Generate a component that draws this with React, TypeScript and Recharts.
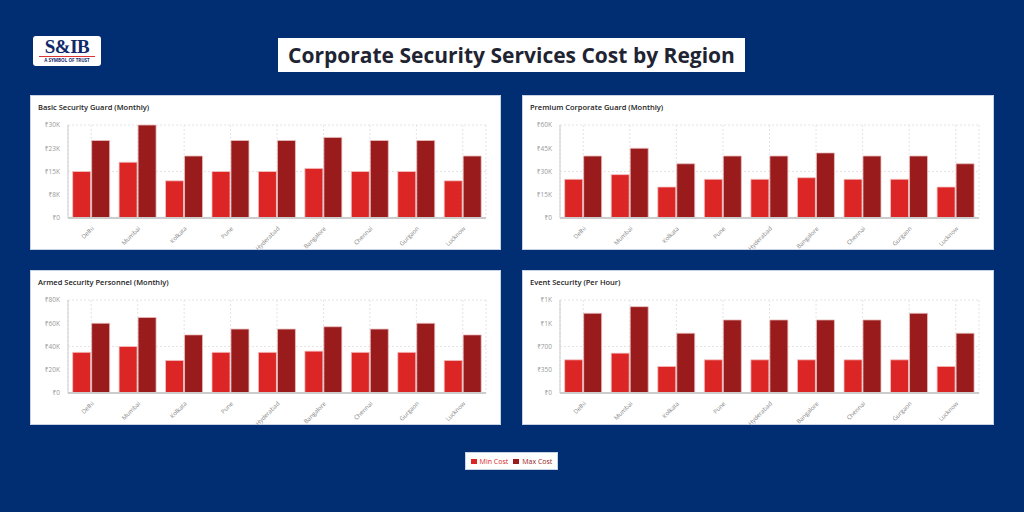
import React from "react"
import { BarChart, Bar, XAxis, YAxis, CartesianGrid } from "recharts"

const cities = ["Delhi", "Mumbai", "Kolkata", "Pune", "Hyderabad", "Bangalore", "Chennai", "Gurgaon", "Lucknow"]

const basicMin = [15000, 18000, 12000, 15000, 15000, 16000, 15000, 15000, 12000]
const basicMax = [25000, 30000, 20000, 25000, 25000, 26000, 25000, 25000, 20000]

const premiumMin = [25000, 28000, 20000, 25000, 25000, 26000, 25000, 25000, 20000]
const premiumMax = [40000, 45000, 35000, 40000, 40000, 42000, 40000, 40000, 35000]

const armedMin = [35000, 40000, 28000, 35000, 35000, 36000, 35000, 35000, 28000]
const armedMax = [60000, 65000, 50000, 55000, 55000, 57000, 55000, 60000, 50000]

const eventMin = [500, 600, 400, 500, 500, 500, 500, 500, 400]
const eventMax = [1200, 1300, 900, 1100, 1100, 1100, 1100, 1200, 900]

const basicTicks = [0, 7500, 15000, 22500, 30000]
const premiumTicks = [0, 15000, 30000, 45000, 60000]
const armedTicks = [0, 20000, 40000, 60000, 80000]
const eventTicks = [0, 350, 700, 1050, 1400]

const MIN_COLOR = "#dc2626"
const MAX_COLOR = "#991b1b"
const NAVY = "#012d72"
const FONT = "'Open Sans', 'Noto Sans', sans-serif"

function money(v: number) {
  if (v >= 1000) return "₹" + (v / 1000).toFixed(0) + "K"
  return "₹" + v
}

function buildRows(min: number[], max: number[]) {
  return cities.map((c, i) => ({ city: c, min: min[i], max: max[i] }))
}

interface PanelProps {
  title: string
  min: number[]
  max: number[]
  ticks: number[]
  left: number
  top: number
  width: number
}

function Panel({ title, min, max, ticks, left, top, width }: PanelProps) {
  const rows = buildRows(min, max)
  return (
    <div
      style={{
        position: "absolute",
        left,
        top,
        width,
        height: 155,
        background: "#fff",
        border: "1px solid #c8d2e6",
        boxSizing: "border-box"
      }}
    >
      <div
        style={{
          position: "absolute",
          left: 7,
          top: 6,
          fontSize: 7.5,
          fontWeight: 600,
          color: "#222",
          fontFamily: FONT
        }}
      >
        {title}
      </div>
      <BarChart
        width={width - 2}
        height={153}
        data={rows}
        margin={{ top: 29, right: 14, left: 0, bottom: 0 }}
        barCategoryGap="10%"
        barGap={1}
      >
        <CartesianGrid strokeDasharray="2 2" stroke="#e4e4e4" />
        <XAxis
          dataKey="city"
          height={31}
          interval={0}
          angle={-45}
          textAnchor="end"
          tick={{ fontSize: 6, fill: "#888", fontFamily: FONT }}
          tickLine={false}
          axisLine={{ stroke: "#ccc", strokeWidth: 2 }}
        />
        <YAxis
          width={37}
          domain={[0, ticks[ticks.length - 1]]}
          ticks={ticks}
          tickFormatter={money}
          tick={{ fontSize: 6.5, fill: "#999", fontFamily: FONT }}
          tickLine={false}
          axisLine={{ stroke: "#ccc" }}
        />
        <Bar dataKey="min" fill={MIN_COLOR} stroke="#f4c4c4" strokeWidth={0.8} isAnimationActive={false} />
        <Bar dataKey="max" fill={MAX_COLOR} stroke="#e8c0c0" strokeWidth={0.8} isAnimationActive={false} />
      </BarChart>
    </div>
  )
}

export default function App() {
  return (
    <div
      style={{
        position: "absolute",
        left: 0,
        top: 0,
        width: 1024,
        height: 512,
        background: NAVY,
        overflow: "hidden",
        fontFamily: FONT
      }}
    >
      <style>{".recharts-surface { overflow: visible; }"}</style>

      {/* logo */}
      <div
        style={{
          position: "absolute",
          left: 33,
          top: 36,
          width: 68,
          height: 30,
          background: "#fff",
          borderRadius: 3,
          textAlign: "center"
        }}
      >
        <div
          style={{
            fontFamily: "'Liberation Serif', serif",
            fontWeight: 700,
            fontSize: 19,
            lineHeight: "19px",
            color: "#10296b",
            marginTop: 1,
            letterSpacing: -0.5
          }}
        >
          S&amp;IB
        </div>
        <div style={{ height: 1, background: "#d33", margin: "0 6px" }} />
        <div style={{ fontSize: 4.5, color: "#10296b", fontWeight: 700, lineHeight: "7px" }}>
          A SYMBOL OF TRUST
        </div>
      </div>

      {/* title */}
      <div
        style={{
          position: "absolute",
          left: 278,
          top: 38,
          width: 467,
          height: 34,
          background: "#fff",
          textAlign: "center",
          fontSize: 21,
          fontWeight: 700,
          lineHeight: "34px",
          color: "#1f2433"
        }}
      >
        Corporate Security Services Cost by Region
      </div>

      <Panel title="Basic Security Guard (Monthly)" min={basicMin} max={basicMax} ticks={basicTicks} left={30} top={95} width={471} />
      <Panel title="Premium Corporate Guard (Monthly)" min={premiumMin} max={premiumMax} ticks={premiumTicks} left={522} top={95} width={472} />
      <Panel title="Armed Security Personnel (Monthly)" min={armedMin} max={armedMax} ticks={armedTicks} left={30} top={270} width={471} />
      <Panel title="Event Security (Per Hour)" min={eventMin} max={eventMax} ticks={eventTicks} left={522} top={270} width={472} />

      {/* legend */}
      <div
        style={{
          position: "absolute",
          left: 465,
          top: 452,
          width: 93,
          height: 18,
          background: "#fff",
          border: "1px solid #c8d2e6",
          boxSizing: "border-box",
          display: "flex",
          alignItems: "center",
          justifyContent: "center",
          gap: 5,
          fontSize: 7
        }}
      >
        <span style={{ display: "flex", alignItems: "center", gap: 3, color: MIN_COLOR }}>
          <span style={{ width: 6, height: 5, background: MIN_COLOR, display: "inline-block" }} />
          Min Cost
        </span>
        <span style={{ display: "flex", alignItems: "center", gap: 3, color: MAX_COLOR }}>
          <span style={{ width: 6, height: 5, background: MAX_COLOR, display: "inline-block" }} />
          Max Cost
        </span>
      </div>
    </div>
  )
}
